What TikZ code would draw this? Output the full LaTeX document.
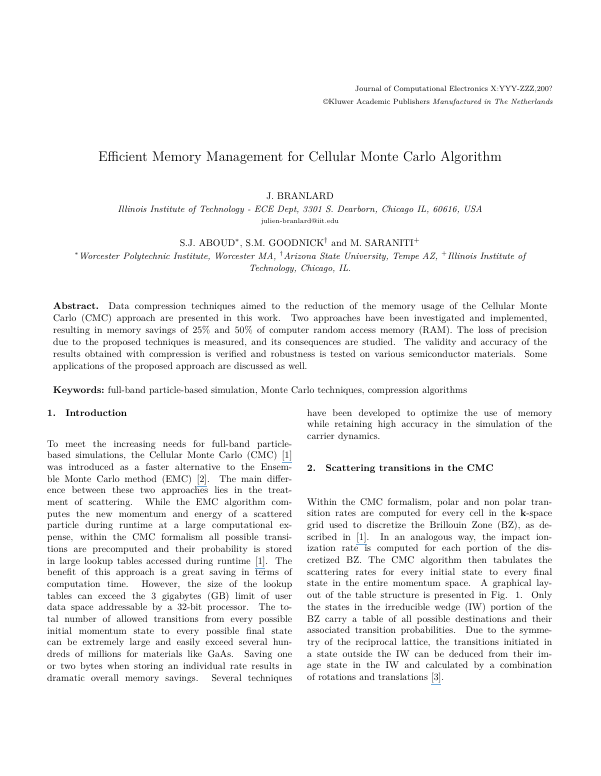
\documentclass[tikz,border=0pt]{standalone}
\usepackage{xcolor}
\definecolor{lb}{RGB}{110,170,220}
\newcommand\cit[1]{{\color{lb}\underline{\color{black}[#1]}}}
\newcommand\bodyf{\fontsize{9.7}{11.7}\selectfont}
\newcommand\LJ[3]{\node[anchor=base west,inner sep=0] at (#1,-#2) {\bodyf\makebox[245pt][s]{#3}};}
\newcommand\LE[3]{\node[anchor=base west,inner sep=0] at (#1,-#2) {\bodyf #3};}
\newcommand\AJ[2]{\node[anchor=base west,inner sep=0] at (53,-#1) {\bodyf\makebox[494pt][s]{#2}};}
\begin{document}
\begin{tikzpicture}[x=1pt,y=1pt]
\useasboundingbox (0,0) rectangle (600,-776);
\fill[white] (0,0) rectangle (600,-776);
% header
\node[anchor=base east,inner sep=0] (j1) at (553,-91) {\fontsize{7.6}{9}\selectfont Journal of Computational Electronics X:YYY-ZZZ,200?};
\node[anchor=base east,inner sep=0] (j2) at (553,-104) {\fontsize{7.6}{9}\selectfont \textcopyright Kluwer Academic Publishers \textit{Manufactured in The Netherlands}};
% title
\node[anchor=base,inner sep=0] (title) at (300,-161) {\fontsize{14}{16}\selectfont Efficient Memory Management for Cellular Monte Carlo Algorithm};
\node[anchor=base,inner sep=0] (a1) at (300,-199) {\fontsize{9.7}{11}\selectfont J. BRANLARD};
\node[anchor=base,inner sep=0] (a1b) at (300,-212) {\fontsize{9.2}{11}\selectfont\itshape Illinois Institute of Technology - ECE Dept, 3301 S. Dearborn, Chicago IL, 60616, USA};
\node[anchor=base,inner sep=0] (a1c) at (300,-223) {\fontsize{6.8}{8}\selectfont julien-branlard@iit.edu};
\node[anchor=base,inner sep=0] (a2) at (300,-246) {\fontsize{9.7}{11}\selectfont S.J. ABOUD$^{*}$, S.M. GOODNICK$^{\dagger}$ and M. SARANITI$^{+}$};
\node[anchor=base,inner sep=0] (a2b) at (300,-259) {\fontsize{9.2}{11}\selectfont\itshape $^{*}$Worcester Polytechnic Institute, Worcester MA, $^{\dagger}$Arizona State University, Tempe AZ, $^{+}$Illinois Institute of};
\node[anchor=base,inner sep=0] (a2c) at (300,-271) {\fontsize{9.2}{11}\selectfont\itshape Technology, Chicago, IL.};
% abstract
\AJ{309}{\textbf{Abstract.}\quad Data compression techniques aimed to the reduction of the memory usage of the Cellular Monte}
\AJ{321}{Carlo (CMC) approach are presented in this work.\ \ Two approaches have been investigated and implemented,}
\AJ{333}{resulting in memory savings of 25\% and 50\% of computer random access memory (RAM). The loss of precision}
\AJ{345}{due to the proposed techniques is measured, and its consequences are studied.\ \ The validity and accuracy of the}
\AJ{357}{results obtained with compression is verified and robustness is tested on various semiconductor materials.\ \ Some}
\node[anchor=base west,inner sep=0] at (53,-369) {\bodyf applications of the proposed approach are discussed as well.};
\node[anchor=base west,inner sep=0] at (53,-393) {\bodyf \textbf{Keywords:}\ full-band particle-based simulation, Monte Carlo techniques, compression algorithms};
% section 1
\node[anchor=base west,inner sep=0] (s1) at (47,-416) {\bodyf\bfseries 1.\quad Introduction};
\LJ{47}{447}{To meet the increasing needs for full-band particle-}
\LJ{47}{458.7}{based simulations, the Cellular Monte Carlo (CMC) \cit{1}}
\LJ{47}{470.4}{was introduced as a faster alternative to the Ensem-}
\LJ{47}{482.1}{ble Monte Carlo method (EMC) \cit{2}. The main differ-}
\LJ{47}{493.8}{ence between these two approaches lies in the treat-}
\LJ{47}{505.5}{ment of scattering.\ \ While the EMC algorithm com-}
\LJ{47}{517.2}{putes the new momentum and energy of a scattered}
\LJ{47}{528.9}{particle during runtime at a large computational ex-}
\LJ{47}{540.6}{pense, within the CMC formalism all possible transi-}
\LJ{47}{552.3}{tions are precomputed and their probability is stored}
\LJ{47}{564}{in large lookup tables accessed during runtime \cit{1}. The}
\LJ{47}{575.7}{benefit of this approach is a great saving in terms of}
\LJ{47}{587.4}{computation time.\ \ However, the size of the lookup}
\LJ{47}{599.1}{tables can exceed the 3 gigabytes (GB) limit of user}
\LJ{47}{610.8}{data space addressable by a 32-bit processor. The to-}
\LJ{47}{622.5}{tal number of allowed transitions from every possible}
\LJ{47}{634.2}{initial momentum state to every possible final state}
\LJ{47}{645.9}{can be extremely large and easily exceed several hun-}
\LJ{47}{657.6}{dreds of millions for materials like GaAs. Saving one}
\LJ{47}{669.3}{or two bytes when storing an individual rate results in}
\LJ{47}{681}{dramatic overall memory savings. Several techniques}
% right column
\LJ{307}{416}{have been developed to optimize the use of memory}
\LJ{307}{427.7}{while retaining high accuracy in the simulation of the}
\LE{307}{439.4}{carrier dynamics.}
\node[anchor=base west,inner sep=0] (s2) at (307,-471) {\bodyf\bfseries 2.\quad Scattering transitions in the CMC};
\LJ{307}{505}{Within the CMC formalism, polar and non polar tran-}
\LJ{307}{516.7}{sition rates are computed for every cell in the \textbf{k}-space}
\LJ{307}{528.4}{grid used to discretize the Brillouin Zone (BZ), as de-}
\LJ{307}{540.1}{scribed in \cit{1}.\ \ In an analogous way, the impact ion-}
\LJ{307}{551.8}{ization rate is computed for each portion of the dis-}
\LJ{307}{563.5}{cretized BZ. The CMC algorithm then tabulates the}
\LJ{307}{575.2}{scattering rates for every initial state to every final}
\LJ{307}{586.9}{state in the entire momentum space.\ \ A graphical lay-}
\LJ{307}{598.6}{out of the table structure is presented in Fig. 1.\ \ Only}
\LJ{307}{610.3}{the states in the irreducible wedge (IW) portion of the}
\LJ{307}{622}{BZ carry a table of all possible destinations and their}
\LJ{307}{633.7}{associated transition probabilities.\ \ Due to the symme-}
\LJ{307}{645.4}{try of the reciprocal lattice, the transitions initiated in}
\LJ{307}{657.1}{a state outside the IW can be deduced from their im-}
\LJ{307}{668.8}{age state in the IW and calculated by a combination}
\LE{307}{680.5}{of rotations and translations \cit{3}.}
\end{tikzpicture}
\end{document}
